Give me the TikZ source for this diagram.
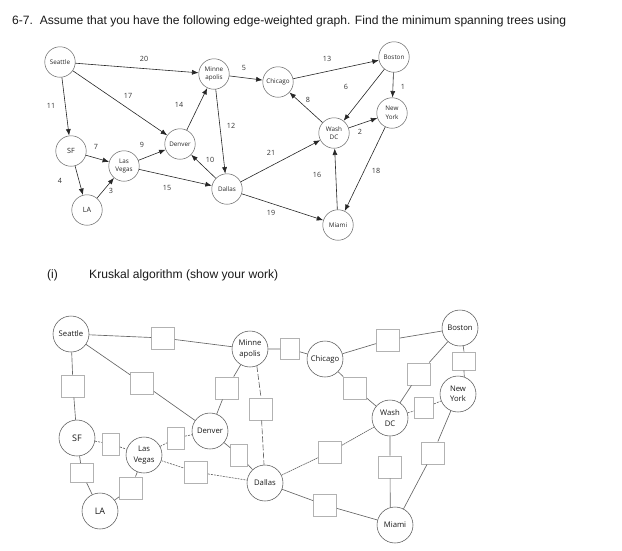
\documentclass[tikz,border=0pt]{standalone}
\usepackage{fontspec}
\setmainfont{Liberation Sans}
\newfontfamily\graphfont{Open Sans}
\usetikzlibrary{arrows.meta}
\tikzset{
  title/.style={inner sep=0pt,anchor=base west,font=\fontsize{12.1}{14}\selectfont,text=black!90},
  city/.style={circle,draw=black!60,line width=0.5pt,fill=white,minimum size=30.5pt,inner sep=0pt,align=center,font=\graphfont\fontsize{6.3}{8.6}\selectfont,text=black!85},
  bigcity/.style={circle,draw=black!65,line width=0.55pt,fill=white,minimum size=36pt,inner sep=0pt,align=center,font=\graphfont\fontsize{7.7}{10.4}\selectfont,text=black!90},
  weight/.style={inner sep=0pt,font=\graphfont\fontsize{7.2}{8}\selectfont,text=black!80},
  edge/.style={draw=black!85,line width=0.6pt,-{Latex[length=6.5pt,width=5pt]}},
  link/.style={draw=black!60,line width=0.65pt},
  dlink/.style={link,dash pattern=on 6pt off 2pt},
  blank/.style={rectangle,draw=black!30,line width=0.8pt,fill=white,minimum width=23pt,minimum height=22pt,inner sep=0pt},
  narrow/.style={blank,minimum width=17pt},
  mid/.style={blank,minimum width=19pt,minimum height=21pt},
  flat/.style={blank,minimum height=19pt}
}
\begin{document}
\begin{tikzpicture}[x=1pt,y=-1pt]
\useasboundingbox (0,0) rectangle (622,550);
\node[title] (head) at (12,24.5) {6-7.\ \ Assume that you have the following edge-weighted graph. Find the minimum spanning trees using};
\node[title] (part) at (47,278) {(i)};
\node[title] (kruskal) at (89,278) {Kruskal algorithm (show your work)};

% upper graph
\node[city] (S) at (60,62) {Seattle};
\node[city] (M) at (214,74) {Minne\\apolis};
\node[city] (C) at (278,82) {Chicago};
\node[city] (F) at (71,151) {\fontsize{7.2}{8}\selectfont SF};
\node[city] (V) at (124,166) {Las\\Vegas};
\node[city] (D) at (180,144) {Denver};
\node[city] (L) at (87,210) {\fontsize{7.2}{8}\selectfont LA};
\node[city] (A) at (227,189) {Dallas};
\node[city] (B) at (394,57) {Boston};
\node[city] (N) at (392,113) {New\\York};
\node[city] (W) at (334,133) {Wash\\DC};
\node[city] (I) at (338,225) {Miami};
\draw[edge] (S) -- (M);
\draw[edge] (S) -- (D);
\draw[edge] (S) -- (F);
\draw[edge] (M) -- (C);
\draw[edge] (D) -- (M);
\draw[edge] (M) -- (A);
\draw[edge] (F) -- (V);
\draw[edge] (F) -- (L);
\draw[edge] (L) -- (V);
\draw[edge] (V) -- (D);
\draw[edge] (V) -- (A);
\draw[edge] (A) -- (D);
\draw[edge] (A) -- (W);
\draw[edge] (A) -- (I);
\draw[edge] (C) -- (B);
\draw[edge] (W) -- (C);
\draw[edge] (B) -- (W);
\draw[edge] (B) -- (N);
\draw[edge] (W) -- (N);
\draw[edge] (I) -- (W);
\draw[edge] (N) -- (I);
\node[weight] (w20) at (144,59) {20};
\node[weight] (w5) at (244,68) {5};
\node[weight] (w17) at (128,96) {17};
\node[weight] (w11) at (51,106) {11};
\node[weight] (w14) at (179,105) {14};
\node[weight] (w12) at (231,126) {12};
\node[weight] (w7) at (96,147) {7};
\node[weight] (w9) at (142,145) {9};
\node[weight] (w10) at (210,160) {10};
\node[weight] (w4) at (60,181) {4};
\node[weight] (w3) at (111,191) {3};
\node[weight] (w15) at (167,188) {15};
\node[weight] (w21) at (271,153) {21};
\node[weight] (w19) at (271,213) {19};
\node[weight] (w13) at (327,59) {13};
\node[weight] (w6) at (346,87) {6};
\node[weight] (w8) at (308,100) {8};
\node[weight] (w1) at (403,87) {1};
\node[weight] (w2) at (360,132) {2};
\node[weight] (w16) at (317,175) {16};
\node[weight] (w18) at (376,171) {18};

% lower graph
\node[bigcity] (S2) at (71,334) {Seattle};
\node[bigcity] (M2) at (250,349) {Minne\\apolis};
\node[bigcity] (C2) at (325,359) {Chicago};
\node[bigcity] (F2) at (77,438) {\fontsize{9}{10}\selectfont SF};
\node[bigcity] (V2) at (144,455) {Las\\Vegas};
\node[bigcity] (D2) at (210,431) {Denver};
\node[bigcity] (L2) at (100,511) {\fontsize{9}{10}\selectfont LA};
\node[bigcity] (A2) at (265,483) {Dallas};
\node[bigcity] (B2) at (460,328) {Boston};
\node[bigcity] (N2) at (458,394) {New\\York};
\node[bigcity] (W2) at (390,418) {Wash\\DC};
\node[bigcity] (I2) at (395,525) {Miami};
\node[blank] (b1) at (163,338) {};
\node[blank] (b2) at (142,383) {};
\node[blank] (b3) at (227,388) {};
\node[blank] (b4) at (261,409) {};
\node[mid] (b5) at (290,349) {};
\node[blank] (b6) at (73,386) {};
\node[narrow] (b7) at (111,444) {};
\node[narrow] (b8) at (176,438) {};
\node[narrow] (b9) at (239,455) {};
\node[blank] (b10) at (196,472) {};
\node[flat] (b11) at (82,473) {};
\node[blank] (b12) at (131,488) {};
\node[blank] (b13) at (388,340) {};
\node[blank] (b14) at (355,388) {};
\node[blank] (b15) at (419,374) {};
\node[flat,minimum height=18pt] (b16) at (464,361) {};
\node[mid] (b17) at (424,408) {};
\node[blank] (b18) at (330,452) {};
\node[blank] (b19) at (390,467) {};
\node[blank] (b20) at (433,453) {};
\node[blank] (b21) at (325,505) {};
\draw[link] (S2) -- (b1) -- (M2);
\draw[link] (S2) -- (b2) -- (D2);
\draw[link] (M2) -- (b3) -- (D2);
\draw[dlink] (M2.-68) -- (b4.north) (b4) -- (A2);
\draw[link] (M2) -- (b5) -- (C2);
\draw[link] (S2) -- (b6) -- (F2);
\draw[dlink,dash pattern=on 2pt off 1.2pt] (F2) -- (b7) -- (V2);
\draw[dlink,dash pattern=on 2pt off 1.2pt] (V2) -- (b8) -- (D2);
\draw[link] (D2) -- (b9) -- (A2);
\draw[dlink,dash pattern=on 2pt off 1pt] (V2) -- (b10) -- (A2);
\draw[link] (F2) -- (b11) -- (L2);
\draw[link] (L2) -- (b12) -- (V2);
\draw[link] (C2) -- (b13) -- (B2);
\draw[link] (C2) -- (b14) -- (W2);
\draw[link] (W2) -- (b15) -- (B2);
\draw[link] (B2.-80) -- (b16.north) (b16.south) -- (N2.70);
\draw[dlink,dash pattern=on 2pt off 1.2pt] (W2) -- (b17) -- (N2);
\draw[dlink,dash pattern=on 1.5pt off 0.6pt] (A2) -- (b18) -- (W2);
\draw[link] (W2) -- (b19) -- (I2.105);
\draw[link] (N2) -- (b20) -- (I2);
\draw[link] (A2) -- (b21) -- (I2);
\end{tikzpicture}
\end{document}
